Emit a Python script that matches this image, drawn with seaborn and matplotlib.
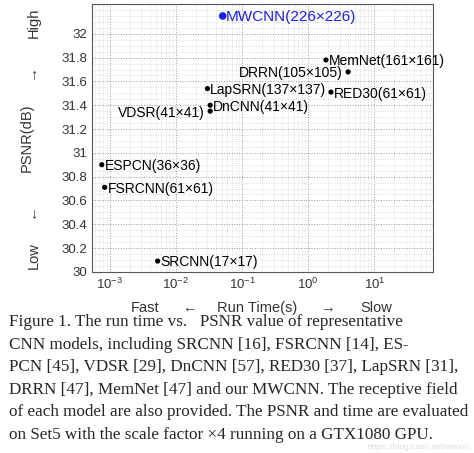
import numpy as np
import pandas as pd
import matplotlib
matplotlib.use("Agg")
import matplotlib.pyplot as plt
import seaborn as sns

models = ["MWCNN(226×226)", "MemNet(161×161)", "DRRN(105×105)", "RED30(61×61)",
          "LapSRN(137×137)", "DnCNN(41×41)", "VDSR(41×41)", "ESPCN(36×36)",
          "FSRCNN(61×61)", "SRCNN(17×17)"]
run_time = [0.051, 1.85, 4.0, 2.2, 0.030, 0.033, 0.033, 0.00076, 0.00084, 0.0053]
psnr = [32.15, 31.78, 31.68, 31.51, 31.54, 31.40, 31.35, 30.90, 30.71, 30.09]
label_side = ["r", "r", "l", "r", "r", "r", "l", "r", "r", "r"]

caption = [
    "Figure 1. The run time vs.   PSNR value of representative",
    "CNN models, including SRCNN [16], FSRCNN [14], ES-",
    "PCN [45], VDSR [29], DnCNN [57], RED30 [37], LapSRN [31],",
    "DRRN [47], MemNet [47] and our MWCNN. The receptive field",
    "of each model are also provided. The PSNR and time are evaluated",
    "on Set5 with the scale factor ×4 running on a GTX1080 GPU.",
]

df = pd.DataFrame({"model": models, "time": run_time, "psnr": psnr, "side": label_side})
df["color"] = ["#1a1aff" if m.startswith("MWCNN") else "black" for m in df["model"]]

sns.set_style("white")
plt.rcParams["font.family"] = ["Liberation Sans", "DejaVu Sans"]
fig = plt.figure(figsize=(4.74, 4.53), dpi=100)
ax = fig.add_axes([0.194, 0.40, 0.719, 0.591])

sns.scatterplot(data=df, x="time", y="psnr", hue="model", palette=list(df["color"]),
                s=[30 if c != "black" else 14 for c in df["color"]], legend=False,
                edgecolor="none", ax=ax)
ax.set_xscale("log")
ax.set_xlim(5.4e-4, 76)
ax.set_ylim(30, 32.25)
ax.set_yticks(np.arange(30, 32.01, 0.2))
ax.set_yticklabels(["30", "30.2", "30.4", "30.6", "30.8", "31", "31.2", "31.4", "31.6", "31.8", "32"])
ax.yaxis.set_minor_locator(matplotlib.ticker.MultipleLocator(0.05))
ax.grid(True, which="major", ls=":", color="#999999", lw=0.7)
ax.grid(True, which="minor", ls=":", color="#cccccc", lw=0.5)
ax.tick_params(labelsize=9.5, colors="#333333", which="both", direction="in", length=3)
ax.tick_params(which="minor", length=1.5)
for s in ax.spines.values():
    s.set_color("#555555")
    s.set_linewidth(0.8)

for _, r in df.iterrows():
    fs = 11 if r["color"] != "black" else 10
    if r["side"] == "r":
        ax.annotate(r["model"], (r["time"], r["psnr"]), xytext=(2, -1), textcoords="offset points",
                    va="center", ha="left", fontsize=fs, color=r["color"])
    else:
        ax.annotate(r["model"], (r["time"], r["psnr"]), xytext=(-4, -1), textcoords="offset points",
                    va="center", ha="right", fontsize=fs, color=r["color"])

ax.set_xlabel("")
ax.set_ylabel("PSNR(dB)", fontsize=10.5, color="#333333", labelpad=2)
ax.yaxis.set_label_coords(-0.17, 0.5)
for txt, yy, rot in [("High", 0.93, 90), ("↑", 0.74, 0), ("↓", 0.22, 0), ("Low", 0.06, 90)]:
    ax.text(-0.17, yy, txt, transform=ax.transAxes, rotation=rot, ha="center", va="center",
            fontsize=10.5, color="#333333")
for txt, xx in [("Fast", 0.155), ("←", 0.285), ("Run Time(s)", 0.485), ("→", 0.69), ("Slow", 0.835)]:
    ax.text(xx, -0.135, txt, transform=ax.transAxes, ha="center", va="center",
            fontsize=10.5, color="#333333")

for i, line in enumerate(caption):
    fig.text(0.02, 1 - (322 + i * 22.6) / 453, line, ha="left", va="center",
             family="Liberation Serif", fontsize=12.3)
fig.text(0.99, 0.005, "https://blog.csdn.net/weixin", ha="right", va="bottom",
         fontsize=6, color="#dddddd")

fig.savefig("out.png", dpi=100)
